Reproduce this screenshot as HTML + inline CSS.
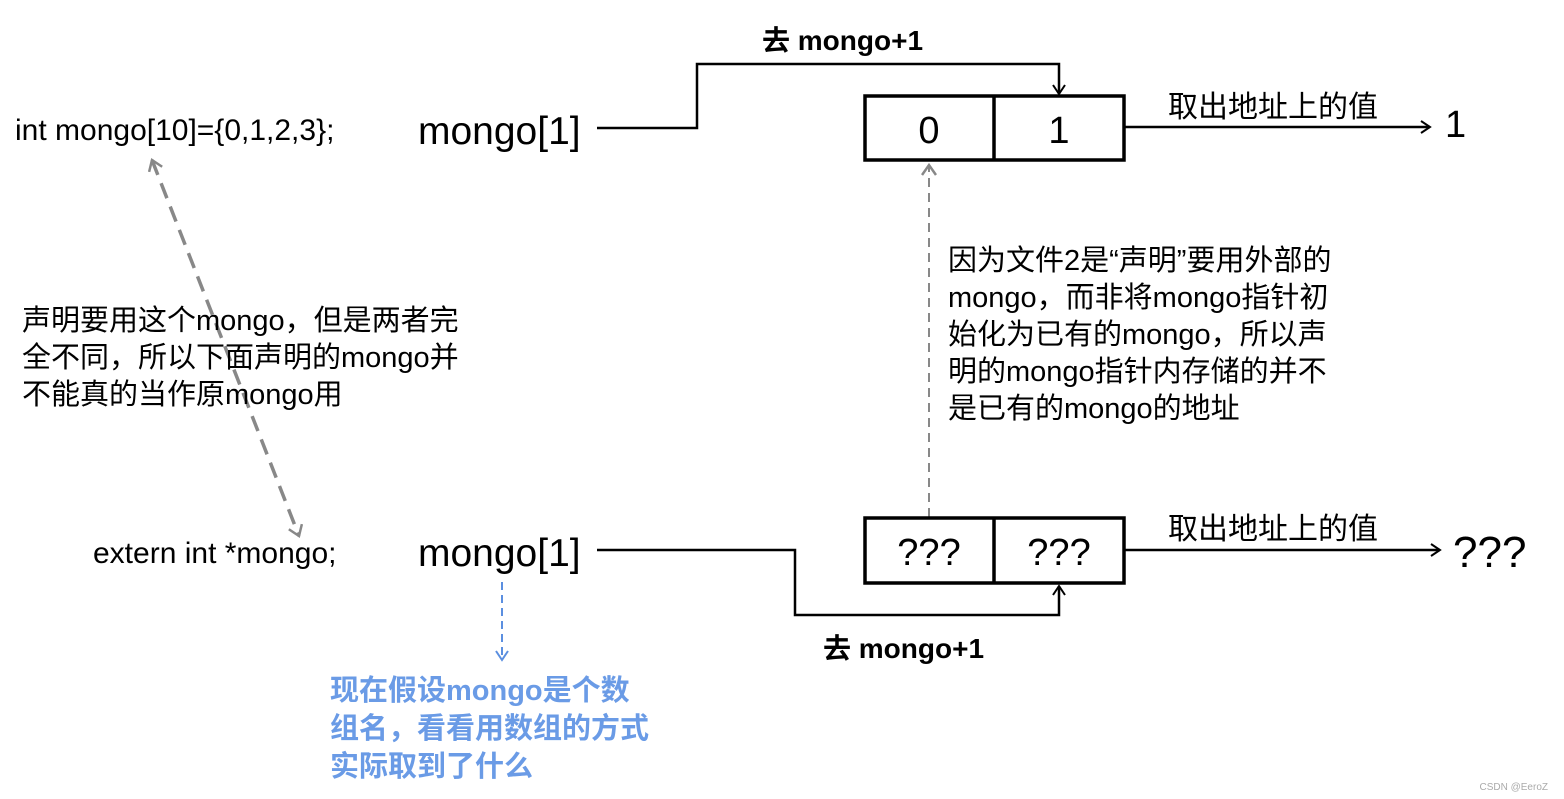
<!DOCTYPE html>
<html><head><meta charset="utf-8"><style>
html,body{margin:0;padding:0;background:#fff;}
svg{display:block;}
text{font-family:"Liberation Sans","Noto Sans CJK SC",sans-serif;fill:#000;}
</style></head><body>
<svg width="1564" height="799" viewBox="0 0 1564 799" xmlns="http://www.w3.org/2000/svg">
<defs>
<marker id="a" markerWidth="14" markerHeight="14" refX="11" refY="7" orient="auto" markerUnits="userSpaceOnUse"><path d="M2,1 L11,7 L2,13" fill="none" stroke="#000" stroke-width="2"/></marker>
<marker id="g" markerWidth="16" markerHeight="16" refX="12" refY="8" orient="auto-start-reverse" markerUnits="userSpaceOnUse"><path d="M2,1 L12,8 L2,15" fill="none" stroke="#888" stroke-width="2.5"/></marker>
<marker id="b" markerWidth="14" markerHeight="14" refX="11" refY="7" orient="auto" markerUnits="userSpaceOnUse"><path d="M2,1 L11,7 L2,13" fill="none" stroke="#5b8fe0" stroke-width="2"/></marker>
</defs>
<text x="15" y="140" font-size="30">int mongo[10]={0,1,2,3};</text>
<text x="418" y="144" font-size="39">mongo[1]</text>
<polyline points="597,128 697,128 697,64 1059,64 1059,94" fill="none" stroke="#000" stroke-width="2.5" marker-end="url(#a)"/>
<text x="762" y="50" font-size="28" font-weight="bold">去 mongo+1</text>
<rect x="865" y="96" width="259" height="64" fill="none" stroke="#000" stroke-width="3.5"/>
<line x1="994" y1="96" x2="994" y2="160" stroke="#000" stroke-width="3.5"/>
<text x="929" y="143" font-size="38" text-anchor="middle">0</text>
<text x="1059" y="143" font-size="38" text-anchor="middle">1</text>
<line x1="1125" y1="127" x2="1430" y2="127" stroke="#000" stroke-width="2.5" marker-end="url(#a)"/>
<text x="1168" y="117" font-size="30">取出地址上的值</text>
<text x="1445" y="137" font-size="38">1</text>
<line x1="929" y1="517" x2="929" y2="165" stroke="#888" stroke-width="2" stroke-dasharray="9,6" marker-end="url(#g)"/>
<g font-size="29">
<text x="948" y="270">因为文件2是“声明”要用外部的</text>
<text x="948" y="307">mongo，而非将mongo指针初</text>
<text x="948" y="344">始化为已有的mongo，所以声</text>
<text x="948" y="381">明的mongo指针内存储的并不</text>
<text x="948" y="418">是已有的mongo的地址</text>
</g>
<line x1="152" y1="160" x2="299" y2="536" stroke="#888" stroke-width="3.5" stroke-dasharray="16,9" marker-start="url(#g)" marker-end="url(#g)"/>
<g font-size="29">
<text x="22" y="330">声明要用这个mongo，但是两者完</text>
<text x="22" y="367">全不同，所以下面声明的mongo并</text>
<text x="22" y="404">不能真的当作原mongo用</text>
</g>
<text x="93" y="563" font-size="30">extern int *mongo;</text>
<text x="418" y="566" font-size="39">mongo[1]</text>
<polyline points="597,550 795,550 795,615 1059,615 1059,586" fill="none" stroke="#000" stroke-width="2.5" marker-end="url(#a)"/>
<text x="823" y="658" font-size="28" font-weight="bold">去 mongo+1</text>
<rect x="865" y="518" width="259" height="65" fill="none" stroke="#000" stroke-width="3.5"/>
<line x1="994" y1="518" x2="994" y2="583" stroke="#000" stroke-width="3.5"/>
<text x="929" y="565" font-size="38" text-anchor="middle">???</text>
<text x="1059" y="565" font-size="38" text-anchor="middle">???</text>
<line x1="1125" y1="550" x2="1440" y2="550" stroke="#000" stroke-width="2.5" marker-end="url(#a)"/>
<text x="1168" y="539" font-size="30">取出地址上的值</text>
<text x="1453" y="567" font-size="44">???</text>
<line x1="502" y1="582" x2="502" y2="660" stroke="#5b8fe0" stroke-width="2" stroke-dasharray="8,5" marker-end="url(#b)"/>
<g font-size="29" font-weight="bold" style="fill:#6a9be6">
<text x="330" y="700" style="fill:#6a9be6">现在假设mongo是个数</text>
<text x="330" y="738" style="fill:#6a9be6">组名，看看用数组的方式</text>
<text x="330" y="776" style="fill:#6a9be6">实际取到了什么</text>
</g>
<text x="1548" y="790" font-size="10" text-anchor="end" style="fill:#aaa">CSDN @EeroZ</text>
</svg>
</body></html>
